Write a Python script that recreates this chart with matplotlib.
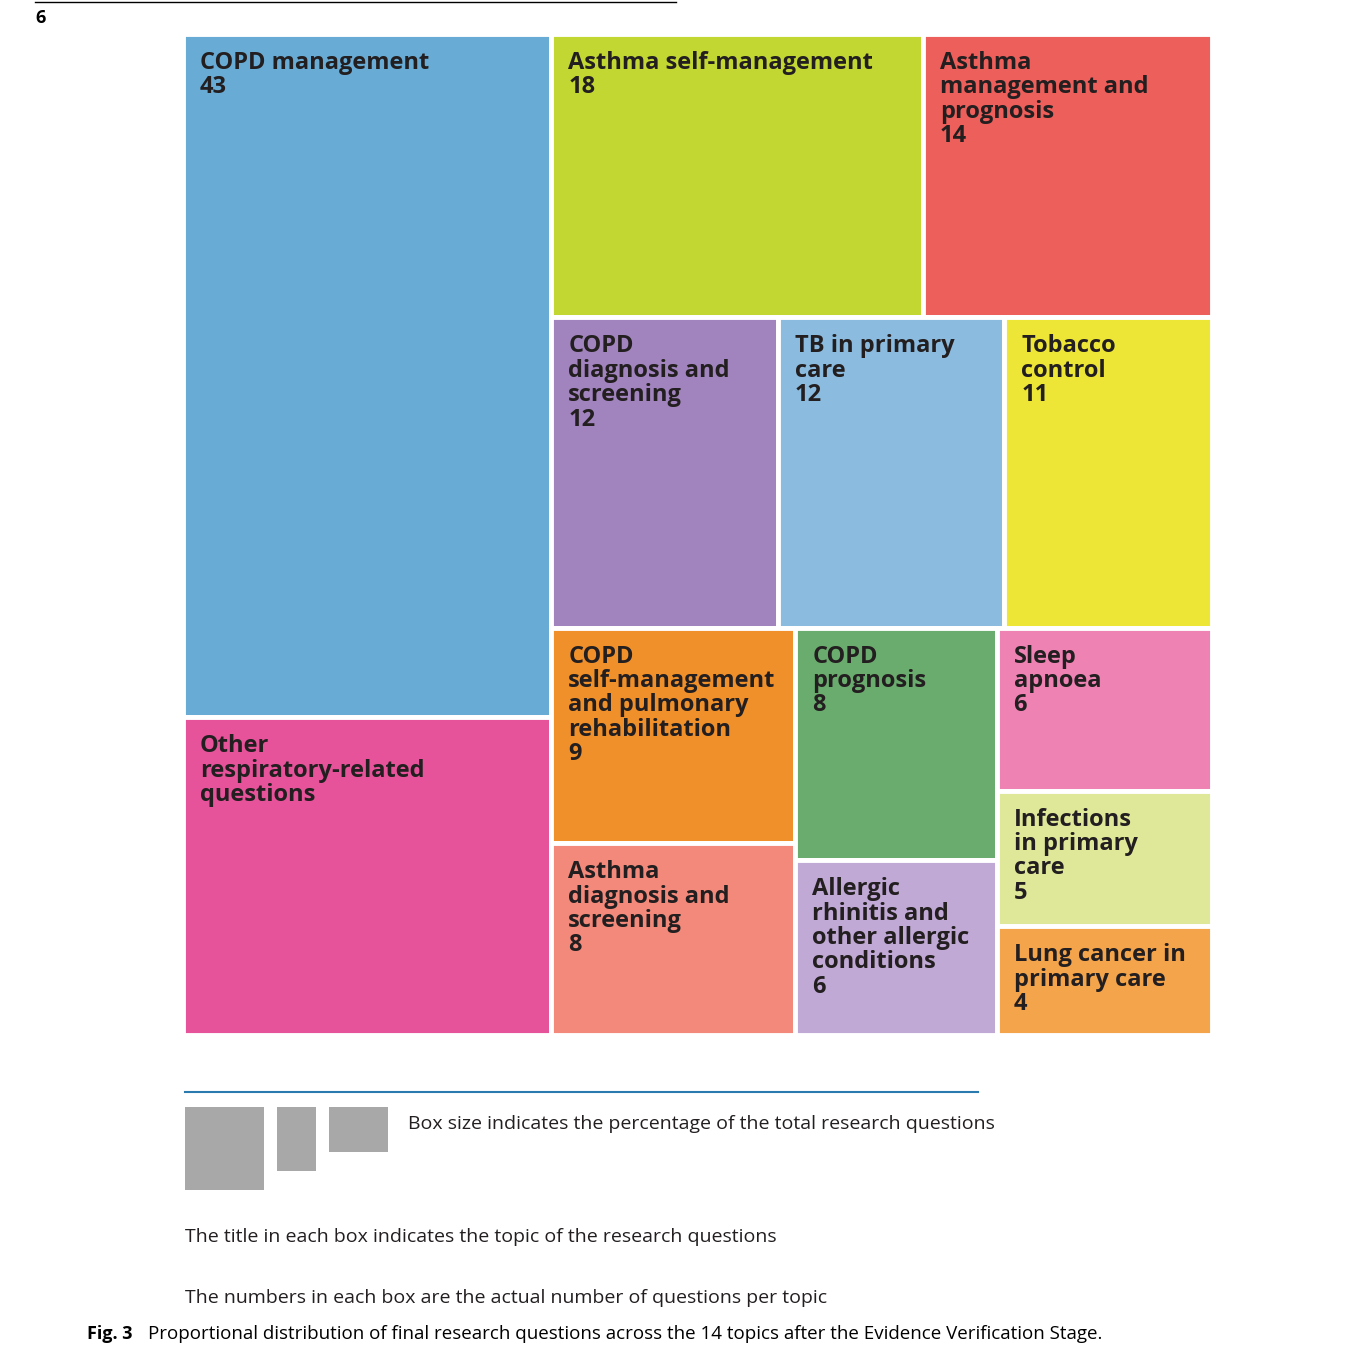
import matplotlib.pyplot as plt
from matplotlib.patches import Rectangle

# Topics, counts and colours (Other has no printed count; 20)
topics = ["COPD management\n43", "Other\nrespiratory-related\nquestions",
          "Asthma self-management\n18", "Asthma\nmanagement and\nprognosis\n14",
          "COPD\ndiagnosis and\nscreening\n12", "TB in primary\ncare\n12", "Tobacco\ncontrol\n11",
          "COPD\nself-management\nand pulmonary\nrehabilitation\n9", "Asthma\ndiagnosis and\nscreening\n8",
          "COPD\nprognosis\n8", "Allergic\nrhinitis and\nother allergic\nconditions\n6",
          "Sleep\napnoea\n6", "Infections\nin primary\ncare\n5", "Lung cancer in\nprimary care\n4"]
counts = [43, 20, 18, 14, 12, 12, 11, 9, 8, 8, 6, 6, 5, 4]
colors = ["#68acd6", "#e6539a", "#c2d732", "#ec5f5a", "#a184bd", "#8bbcdf", "#ede637",
          "#f0902a", "#f2897b", "#6aac6e", "#c0a9d5", "#ee82b3", "#dfe899", "#f4a44a"]

# nested layout: ("h", children) splits left-right, ("v", children) splits top-bottom
tree = ("h", [("v", [0, 1]),
              ("v", [("h", [2, 3]),
                     ("h", [4, 5, 6]),
                     ("h", [("v", [7, 8]), ("v", [9, 10]), ("v", [11, 12, 13])])])])


def total(node):
    if isinstance(node, int):
        return counts[node]
    return sum(total(c) for c in node[1])


def layout(node, x, y, w, h, out):
    if isinstance(node, int):
        out[node] = (x, y, w, h)
        return
    d, kids = node
    t = total(node)
    for k in kids:
        f = total(k) / t
        if d == "h":
            layout(k, x, y, w * f, h, out)
            x += w * f
        else:
            layout(k, x, y, w, h * f, out)
            y += h * f


fig = plt.figure(figsize=(13.68, 13.58), dpi=100)
ax = fig.add_axes([0, 0, 1, 1])
ax.set_xlim(0, 1368)
ax.set_ylim(1358, 0)
ax.axis("off")

rects = {}
layout(tree, 183, 34, 1029, 1001, rects)
for i, (x, y, w, h) in rects.items():
    ax.add_patch(Rectangle((x, y), w, h, facecolor=colors[i], edgecolor="white", linewidth=3.5))
    ax.text(x + 17, y + 17, topics[i], fontsize=17, fontweight="bold", family="Open Sans",
            color="#231f20", va="top", ha="left", linespacing=1.02)

# header
ax.plot([35, 676], [2, 2], color="black", lw=1)
ax.text(35, 18, "6", fontsize=13, fontweight="bold", family="Open Sans", va="center")

# legend area
ax.plot([185, 978], [1092, 1092], color="#2a7ab0", lw=1.5)
for bx, by, bw, bh in [(185, 1107, 79, 83), (277, 1107, 39, 64), (329, 1107, 59, 45)]:
    ax.add_patch(Rectangle((bx, by), bw, bh, facecolor="#a8a8a8", edgecolor="none"))
ax.text(408, 1124, "Box size indicates the percentage of the total research questions",
        fontsize=14, family="Open Sans", va="center", color="#231f20")
ax.text(185, 1237, "The title in each box indicates the topic of the research questions",
        fontsize=14, family="Open Sans", va="center", color="#231f20")
ax.text(185, 1298, "The numbers in each box are the actual number of questions per topic",
        fontsize=14, family="Open Sans", va="center", color="#231f20")
ax.text(87, 1334, "Fig. 3", fontsize=13, fontweight="bold", family="Open Sans", va="center")
ax.text(148, 1334, "Proportional distribution of final research questions across the 14 topics after the Evidence Verification Stage.",
        fontsize=13.5, family="Open Sans", va="center")

fig.savefig("out.png", dpi=100)
